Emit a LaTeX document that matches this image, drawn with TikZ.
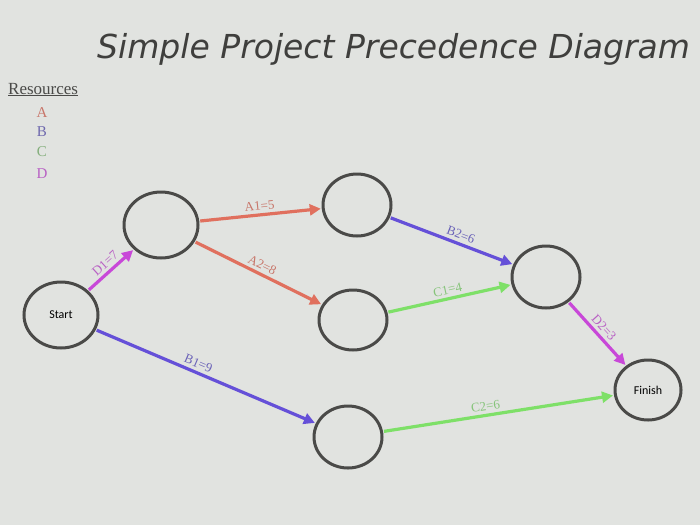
\documentclass[tikz,border=0pt]{standalone}
\usepackage{fontspec}
\setmainfont{Liberation Serif}
\newfontfamily\titlefont{DejaVu Sans}
\newfontfamily\nodefont{Carlito}
\usetikzlibrary{shapes.geometric,arrows.meta}
\definecolor{bg}{HTML}{E1E3E0}
\definecolor{ring}{HTML}{4A4A48}
\definecolor{ccA}{HTML}{E0705E}
\definecolor{ccB}{HTML}{6550D8}
\definecolor{ccC}{HTML}{7EE068}
\definecolor{ccD}{HTML}{C848D8}
\definecolor{ltA}{HTML}{C8766A}
\definecolor{ltB}{HTML}{6A62B8}
\definecolor{ltC}{HTML}{86C47A}
\definecolor{ltD}{HTML}{B860C4}
\begin{document}
\begin{tikzpicture}[x=1pt,y=-1pt,
  evt/.style={draw=ring,line width=3pt,ellipse,minimum width=#1,minimum height=62pt,inner sep=0pt},
  evt/.default=68pt,
  act/.style={line width=3.2pt,-{Triangle[length=11pt,width=11pt]},shorten >=1pt,shorten <=1pt},
  lab/.style={font=\fontsize{13}{13}\selectfont,sloped,above,pos=0.5,inner sep=3pt}]
\fill[bg] (0,0) rectangle (700,525);
\useasboundingbox (0,0) rectangle (700,525);
% title
\node[anchor=base west,inner sep=0pt,text=ring!85!black] (title) at (97,58) {\titlefont\itshape\fontsize{33}{33}\selectfont Simple Project Precedence Diagram};
% legend
\node[anchor=base west,inner sep=0pt,text=ring] (res) at (8,94) {\fontsize{17}{17}\selectfont\underline{Resources}};
\node[text=ltA] (la) at (42,113) {\fontsize{15}{15}\selectfont A};
\node[text=ltB!80!gray] (lb) at (42,132) {\fontsize{15}{15}\selectfont B};
\node[text=ltC!70!gray] (lc) at (42,152) {\fontsize{15}{15}\selectfont C};
\node[text=ltD] (ld) at (42,174) {\fontsize{15}{15}\selectfont D};
% events
\node[evt=74pt,minimum height=66pt] (start) at (61,315) {\nodefont\fontsize{12}{12}\selectfont Start};
\node[evt=74pt,minimum height=66pt] (n1) at (161,225) {};
\node[evt] (n2) at (357,205) {};
\node[evt,minimum height=60pt] (n3) at (353,320) {};
\node[evt] (n4) at (546,277) {};
\node[evt,minimum height=62pt] (n5) at (348,437) {};
\node[evt=66pt,minimum height=60pt] (fin) at (648,390) {\nodefont\fontsize{12}{12}\selectfont Finish};
% activities
\draw[act,ccD] (start) -- node[lab,text=ltD] {D1=7} (n1);
\draw[act,ccA] (n1) -- node[lab,text=ltA] {A1=5} (n2);
\draw[act,ccA] (n1) -- node[lab,text=ltA] {A2=8} (n3);
\draw[act,ccB] (start) -- node[lab,text=ltB,pos=0.45] {B1=9} (n5);
\draw[act,ccB] (n2) -- node[lab,text=ltB,pos=0.55] {B2=6} (n4);
\draw[act,ccC] (n3) -- node[lab,text=ltC] {C1=4} (n4);
\draw[act,ccC] (n5) -- node[lab,text=ltC,pos=0.45] {C2=6} (fin);
\draw[act,ccD] (n4) -- node[lab,text=ltD] {D2=3} (fin);
\end{tikzpicture}
\end{document}
